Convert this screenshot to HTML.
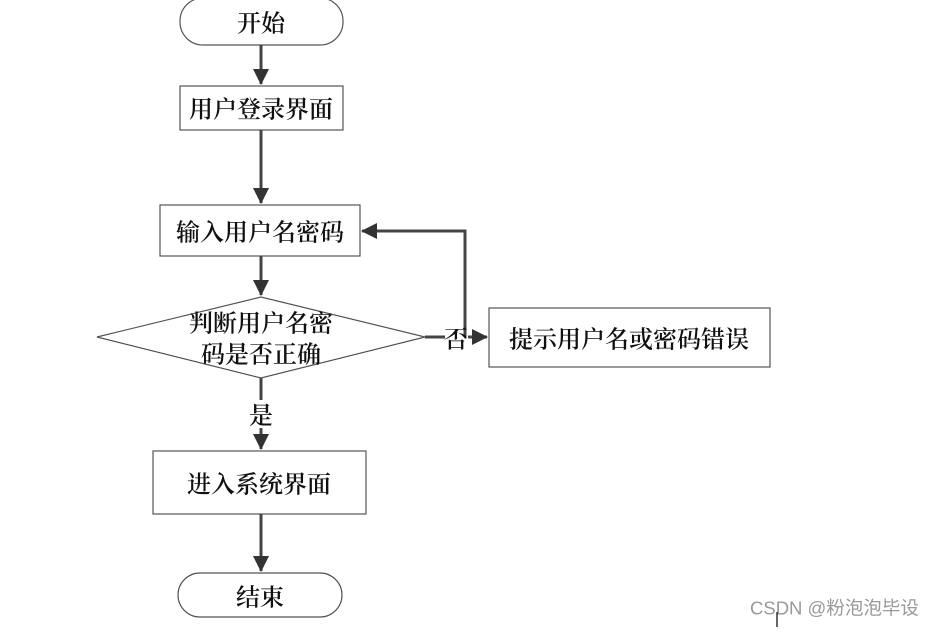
<!DOCTYPE html>
<html><head><meta charset="utf-8"><style>
body{margin:0;background:#fff;width:936px;height:627px;overflow:hidden}
text{font-family:"Noto Serif CJK SC","Liberation Serif",serif;font-size:24px;font-weight:600;fill:#111;text-anchor:middle;dominant-baseline:central}
</style></head><body>
<svg width="936" height="627" xmlns="http://www.w3.org/2000/svg">
<defs>
<marker id="b" markerWidth="16" markerHeight="16" refX="15" refY="8" orient="auto" markerUnits="userSpaceOnUse"><path d="M0,0 L16,8 L0,16 Z" fill="#333"/></marker></defs>
<g fill="#fff" stroke="#555" stroke-width="1.2">
<rect x="180" y="-2" width="163" height="47" rx="23"/>
<rect x="180" y="86" width="163" height="44"/>
<rect x="160" y="205" width="200" height="51"/>
<polygon points="97,337 261,297 425,337 261,378"/>
<rect x="489" y="308" width="281" height="59"/>
<rect x="153" y="451" width="213" height="63"/>
<rect x="178" y="573" width="164" height="44" rx="22"/>
</g>
<g stroke="#444" stroke-width="3" fill="none">
<line x1="261" y1="45" x2="261" y2="84" marker-end="url(#b)"/>
<line x1="261" y1="130" x2="261" y2="203" marker-end="url(#b)"/>
<line x1="261" y1="256" x2="261" y2="295" marker-end="url(#b)"/>
<line x1="261" y1="378" x2="261" y2="400"/>
<line x1="261" y1="428" x2="261" y2="449" marker-end="url(#b)"/>
<line x1="261" y1="514" x2="261" y2="571" marker-end="url(#b)"/>
<line x1="425" y1="337" x2="445" y2="337"/>
<line x1="468" y1="337" x2="487" y2="337" marker-end="url(#b)"/>
<polyline points="465,337 465,231 362,231" marker-end="url(#b)"/>
</g>
<text x="261" y="21">开始</text>
<text x="261" y="107">用户登录界面</text>
<text x="260" y="230">输入用户名密码</text>
<text x="261" y="321">判断用户名密</text>
<text x="261" y="352">码是否正确</text>
<text x="456" y="337">否</text>
<text x="261" y="413">是</text>
<text x="629" y="337">提示用户名或密码错误</text>
<text x="259" y="482">进入系统界面</text>
<text x="260" y="595">结束</text>
<text x="750" y="608" style="font-family:'Liberation Sans','Noto Sans CJK SC',sans-serif;font-size:18.5px;font-weight:normal;fill:#999;text-anchor:start">CSDN @粉泡泡毕设</text>
<line x1="777" y1="612" x2="777" y2="627" stroke="#333" stroke-width="1.5"/>
</svg>
</body></html>
